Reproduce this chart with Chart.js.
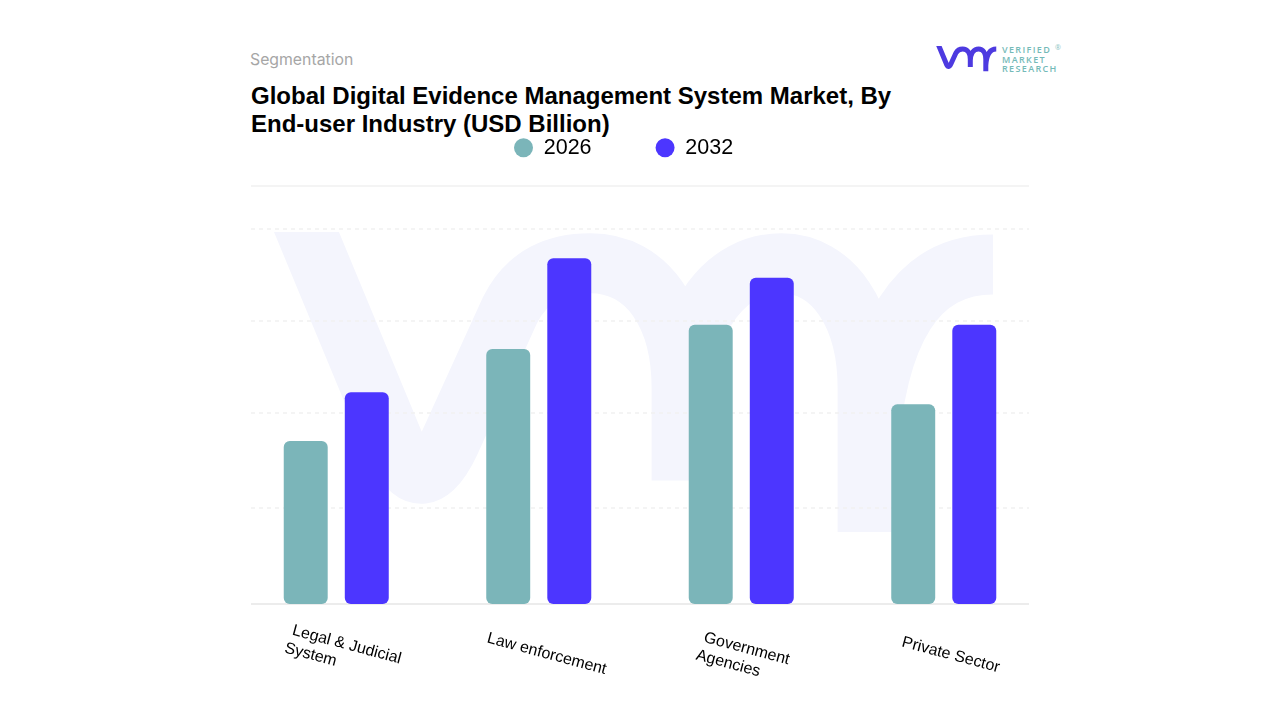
<!DOCTYPE html>
<html>
<head>
<meta charset="utf-8">
<title>Digital Evidence Management System Market</title>
<script src="https://cdn.jsdelivr.net/npm/chart.js@4/dist/chart.umd.min.js"></script>
<style>
    html, body { margin: 0; padding: 0; background: #fff; }
    #page { position: relative; width: 1280px; height: 720px; overflow: hidden; font-family: "Liberation Sans", Arial, sans-serif; }
    #page > * { position: absolute; }
    #watermark { left: 270px; top: 232px; width: 732px; height: 305px; }
    #logo { left: 936px; top: 46px; width: 61px; height: 26px; }
    #chart { left: 0; top: 0; width: 1280px; height: 720px; }
    .eyebrow { left: 250px; top: 50px; font: 15.8px Inter, sans-serif; color: #a6a6a6; }
    h1 { left: 251px; top: 82px; width: 680px; margin: 0; font-size: 24px; line-height: 28px; font-weight: bold; color: #000; }
    .brand { left: 1002px; top: 45px; font: 9px/9.7px "Open Sans", sans-serif; font-weight: 600; letter-spacing: 1.35px; color: #74bab8; white-space: pre; }
    .reg { left: 1055px; top: 43px; font: 7px "Open Sans", sans-serif; color: #8cc4c2; }
</style>
</head>
<body>
<div id="page">
    <svg id="watermark" viewBox="0 0 61 25.4"><use href="#vmrMark" stroke="#f4f5fd"/></svg>
    <svg id="logo" viewBox="0 0 61 25.4"><use href="#vmrMark" stroke="#4d3ae0"/></svg>
    <svg width="0" height="0"><defs>
        <path id="vmrMark" fill="none" stroke-width="5" d="M1.8 -3 L10.5 18 Q12.7 22.5 15 17.5 L20 6.5 C21.5 3.5 24 2.6 26.7 2.6 C31.5 2.6 34.3 7 34.3 13 L34.3 20.7 M34.3 14 C34.6 7 38 2.6 42.6 2.6 C47 2.6 49.8 7 49.8 13 L49.8 25 M49.8 19 C50.5 8 54 2.7 60.25 2.7"/>
    </defs></svg>
    <div class="eyebrow">Segmentation</div>
    <h1>Global Digital Evidence Management System Market, By<br>End-user Industry (USD Billion)</h1>
    <div class="brand">VERIFIED
MARKET
RESEARCH</div>
    <div class="reg">®</div>
    <canvas id="chart" width="1280" height="720"></canvas>
</div>

<script>
var categories = [['Legal & Judicial', 'System'], ['Law enforcement'], ['Government', 'Agencies'], ['Private Sector']];
var years = ['2026', '2032'];
var values2026 = [1.74, 2.72, 2.98, 2.13];
var values2032 = [2.26, 3.69, 3.48, 2.98];
var yTicks = [1.02, 2.04, 3.02, 4];
var yMax = 4.46;

var GRID_LEFT = 251;
var GRID_RIGHT = 1029;
var LABEL_ANGLE = 15 * Math.PI / 180;
var LABEL_FONT = '16px "Liberation Sans", Arial, sans-serif';
var LABEL_LINE = 19;
var LABEL_NUDGE_X = [0, 0, -5, -1];
var LABEL_NUDGE_Y = [0, 0, 4, 1];

// legend sits between the title and the plot, not centred on it
var legendPlacer = {
    id: 'legendPlacer',
    afterLayout: function (chart) {
        var legend = chart.legend;
        legend.left = 450;
        legend.right = 820;
        legend.top = 73;
        legend.bottom = 224;
    }
};

// grid only spans 251..1029 while the categories run wider
var plotLines = {
    id: 'plotLines',
    beforeDatasetsDraw: function (chart) {
        var ctx = chart.ctx;
        var y = chart.scales.y;
        ctx.save();
        ctx.lineWidth = 1.5;
        ctx.strokeStyle = '#f1f1f1';
        ctx.setLineDash([4, 4]);
        yTicks.forEach(function (t) {
            var py = Math.round(y.getPixelForValue(t));
            ctx.beginPath();
            ctx.moveTo(GRID_LEFT, py);
            ctx.lineTo(GRID_RIGHT, py);
            ctx.stroke();
        });
        ctx.setLineDash([]);
        ctx.beginPath();
        ctx.moveTo(GRID_LEFT, y.getPixelForValue(yMax));
        ctx.lineTo(GRID_RIGHT, y.getPixelForValue(yMax));
        ctx.stroke();
        ctx.strokeStyle = '#e6e6e6';
        ctx.beginPath();
        ctx.moveTo(GRID_LEFT, y.getPixelForValue(0));
        ctx.lineTo(GRID_RIGHT, y.getPixelForValue(0));
        ctx.stroke();
        ctx.restore();
    }
};

// rotated clockwise with left aligned lines, which ticks.maxRotation can't do
var slantedLabels = {
    id: 'slantedLabels',
    afterDraw: function (chart) {
        var ctx = chart.ctx;
        var x = chart.scales.x;
        ctx.save();
        ctx.font = LABEL_FONT;
        ctx.fillStyle = '#000';
        ctx.textBaseline = 'middle';
        categories.forEach(function (lines, i) {
            var widest = Math.max.apply(null, lines.map(function (l) { return ctx.measureText(l).width; }));
            ctx.save();
            ctx.translate(x.getPixelForTick(i) + 8 + LABEL_NUDGE_X[i], 654 + LABEL_NUDGE_Y[i]);
            ctx.rotate(LABEL_ANGLE);
            lines.forEach(function (line, n) {
                var dy = (n - (lines.length - 1) / 2) * LABEL_LINE;
                ctx.fillText(line, -widest / 2 - n * 3, dy);
            });
            ctx.restore();
        });
        ctx.restore();
    }
};

new Chart(document.getElementById('chart').getContext('2d'), {
    type: 'bar',
    data: {
        labels: categories,
        datasets: [
            { label: years[0], data: values2026, backgroundColor: '#7bb5b9', borderRadius: 6, borderSkipped: false },
            { label: years[1], data: values2032, backgroundColor: '#4c36ff', borderRadius: 6, borderSkipped: false }
        ]
    },
    options: {
        responsive: false,
        animation: false,
        layout: { padding: { left: 235, right: 235, top: 185, bottom: 116 } },
        datasets: { bar: { categoryPercentage: 0.603, barPercentage: 0.72 } },
        plugins: {
            tooltip: { enabled: false },
            legend: {
                position: 'top',
                align: 'start',
                maxHeight: 1,
                labels: {
                    usePointStyle: true,
                    pointStyle: 'circle',
                    pointStyleWidth: 19,
                    boxHeight: 13.4,
                    padding: 64,
                    color: '#000',
                    font: { family: '"Liberation Sans", Arial, sans-serif', size: 21.5 }
                }
            }
        },
        scales: {
            x: {
                grid: { display: false, drawTicks: false },
                border: { display: false },
                ticks: { display: false }
            },
            y: {
                min: 0,
                max: yMax,
                grid: { display: false, drawTicks: false },
                border: { display: false },
                ticks: { display: false }
            }
        }
    },
    plugins: [legendPlacer, plotLines, slantedLabels]
});
</script>
</body>
</html>
